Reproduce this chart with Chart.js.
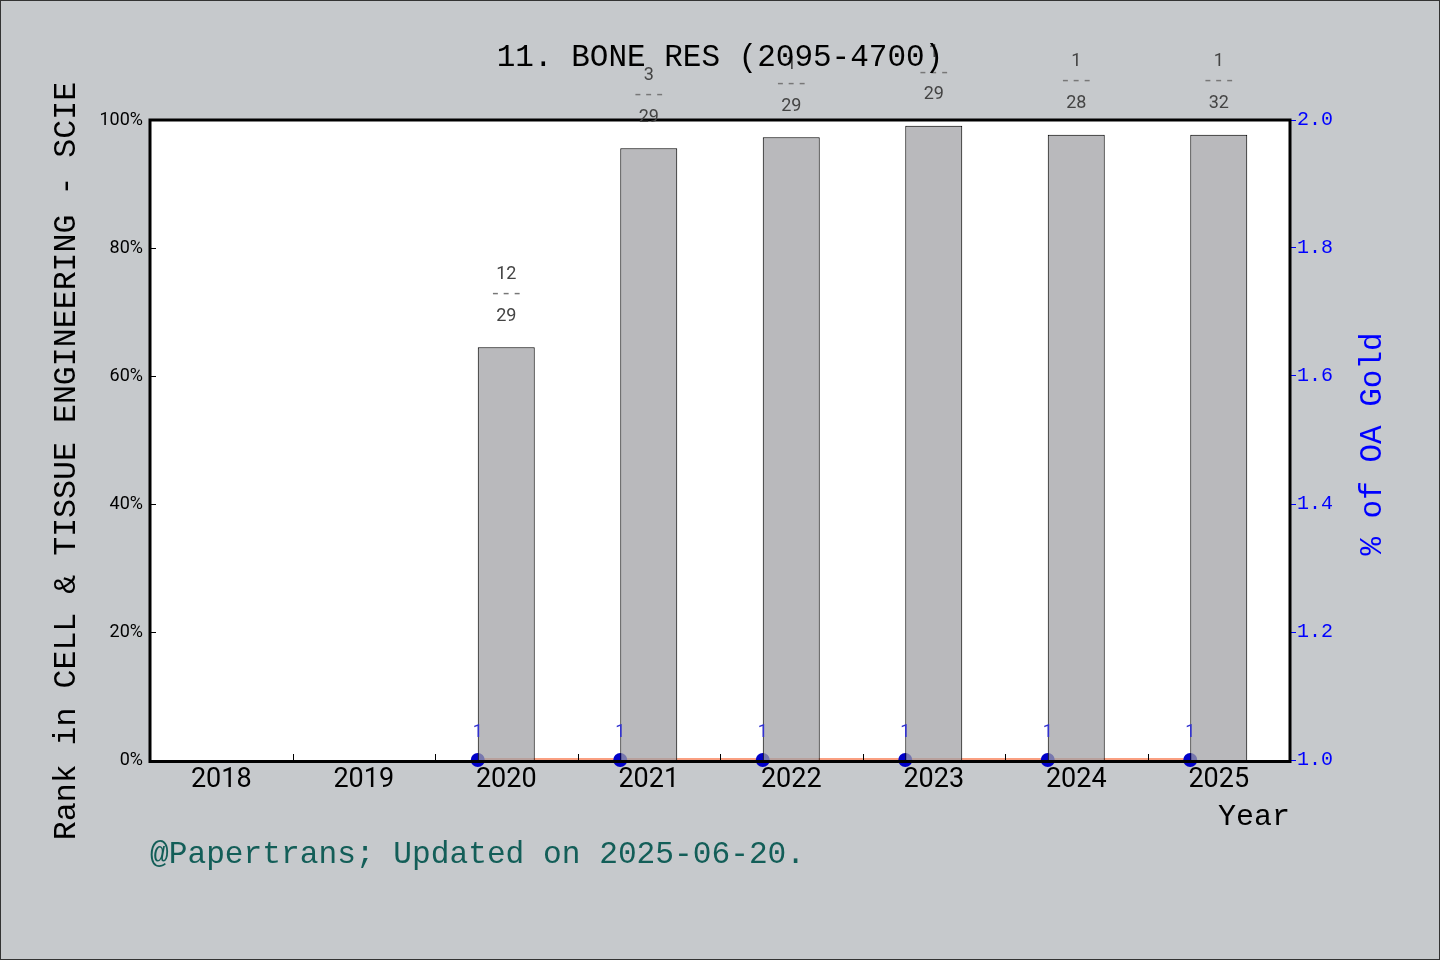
<!DOCTYPE html>
<html>
<head>
<meta charset="utf-8">
<script src="https://cdn.jsdelivr.net/npm/chart.js@4"></script>
<style>
  html, body { margin: 0; padding: 0; background: #c6c9cc; }
  canvas { display: block; }
</style>
</head>
<body>
<canvas id="rankChart" width="1440" height="960"></canvas>
<script>
const years = ["2018", "2019", "2020", "2021", "2022", "2023", "2024", "2025"];
const rankPct = [null, null, 64.5, 95.6, 97.3, 99.1, 97.7, 97.7];
const ranks = [null, null, 12, 3, 1, 1, 1, 1];
const totals = [null, null, 29, 29, 29, 29, 28, 32];
const oaGold = [null, null, 1, 1, 1, 1, 1, 1];
const oaLabels = [null, null, "1", "1", "1", "1", "1", "1"];
const leftTicks = [0, 20, 40, 60, 80, 100];
const rightTicks = [1.0, 1.2, 1.4, 1.6, 1.8, 2.0];

const titleText = "11. BONE RES (2095-4700)";
const leftTitle = "Rank in CELL & TISSUE ENGINEERING - SCIE";
const rightTitle = "% of OA Gold";
const xTitle = "Year";
const footer = "@Papertrans; Updated on 2025-06-20.";

const mono = "'Liberation Mono', 'DejaVu Sans Mono', monospace";
const sans = "Roboto, 'Liberation Sans', sans-serif";
const pointShift = 0.2; // points sit at the left edge of each bar

// line points on a hidden linear axis so they can sit off the category centre
const oaPoints = [];
const oaPointLabels = [];
years.forEach((y, i) => {
    if (oaGold[i] !== null) {
        oaPoints.push({ x: Number(y) - pointShift, y: oaGold[i] });
        oaPointLabels.push(oaLabels[i]);
    }
});

const decor = {
    id: "decor",
    beforeDraw(chart) {
        const ctx = chart.ctx;
        const a = chart.chartArea;
        ctx.save();
        ctx.fillStyle = "#c6c9cc";
        ctx.fillRect(0, 0, chart.width, chart.height);
        ctx.fillStyle = "#ffffff";
        ctx.fillRect(a.left, a.top, a.right - a.left, a.bottom - a.top);
        ctx.restore();
    },
    afterDatasetsDraw(chart) {
        const ctx = chart.ctx;
        const a = chart.chartArea;
        const xs = chart.scales.x;
        const ys = chart.scales.y;
        ctx.save();

        // inward ticks
        ctx.strokeStyle = "#000";
        ctx.lineWidth = 1;
        for (let i = 0; i < years.length - 1; i++) {
            const px = Math.round((xs.getPixelForValue(i) + xs.getPixelForValue(i + 1)) / 2) + 0.5;
            ctx.beginPath();
            ctx.moveTo(px, a.bottom);
            ctx.lineTo(px, a.bottom - 6);
            ctx.stroke();
        }
        leftTicks.forEach(v => {
            const py = Math.round(ys.getPixelForValue(v)) + 0.5;
            ctx.beginPath();
            ctx.moveTo(a.left, py);
            ctx.lineTo(a.left + 6, py);
            ctx.stroke();
        });

        // plot frame
        ctx.lineWidth = 3;
        ctx.strokeRect(a.left, a.top, a.right - a.left, a.bottom - a.top + 1.5);

        // rank labels above bars
        const barMeta = chart.getDatasetMeta(1);
        ctx.textAlign = "center";
        ctx.textBaseline = "middle";
        barMeta.data.forEach((bar, i) => {
            if (ranks[i] === null) return;
            ctx.font = "18px " + sans;
            ctx.fillStyle = "#444";
            ctx.fillText(String(ranks[i]), bar.x, bar.y - 73);
            ctx.font = "18px " + mono;
            ctx.fillStyle = "#777";
            ctx.fillText("---", bar.x, bar.y - 53);
            ctx.font = "18px " + sans;
            ctx.fillStyle = "#444";
            ctx.fillText(String(totals[i]), bar.x, bar.y - 31);
        });

        // OA labels above points
        const lineMeta = chart.getDatasetMeta(0);
        ctx.font = "18px " + sans;
        ctx.fillStyle = "#3030d0";
        lineMeta.data.forEach((pt, i) => {
            ctx.fillText(oaPointLabels[i], pt.x, pt.y - 28);
        });

        // titles
        ctx.fillStyle = "#000";
        ctx.font = "31px " + mono;
        ctx.fillText(titleText, (a.left + a.right) / 2, 58);
        ctx.font = "30px " + mono;
        ctx.textAlign = "right";
        ctx.fillText(xTitle, a.right, 817);
        ctx.textAlign = "left";
        ctx.fillStyle = "#135e58";
        ctx.font = "31.2px " + mono;
        ctx.fillText(footer, a.left, 855);

        ctx.save();
        ctx.translate(67, 461);
        ctx.rotate(-Math.PI / 2);
        ctx.textAlign = "center";
        ctx.fillStyle = "#000";
        ctx.font = "31.6px " + mono;
        ctx.fillText(leftTitle, 0, 0);
        ctx.restore();

        ctx.save();
        ctx.translate(1373, 444);
        ctx.rotate(-Math.PI / 2);
        ctx.textAlign = "center";
        ctx.fillStyle = "#0000ff";
        ctx.font = "31px " + mono;
        ctx.fillText(rightTitle, 0, 0);
        ctx.restore();

        // outer frame
        ctx.strokeStyle = "#333";
        ctx.lineWidth = 1;
        ctx.strokeRect(0.5, 0.5, chart.width - 1, chart.height - 1);
        ctx.restore();
    }
};

new Chart(document.getElementById("rankChart").getContext("2d"), {
    type: "line",
    data: {
        labels: years,
        datasets: [
            {
                type: "line",
                label: "% of OA Gold",
                data: oaPoints,
                xAxisID: "x2",
                yAxisID: "y2",
                borderColor: "rgb(250,160,130)",
                borderWidth: 4,
                pointRadius: 7,
                pointBackgroundColor: "rgb(0,0,200)",
                pointBorderWidth: 0,
                clip: false,
                order: 1
            },
            {
                type: "bar",
                label: "Rank",
                data: rankPct,
                xAxisID: "x",
                yAxisID: "y",
                backgroundColor: "rgba(160,161,164,0.74)",
                borderColor: "#000",
                borderWidth: 1,
                barPercentage: 0.4,
                categoryPercentage: 1,
                grouped: false,
                order: 0
            }
        ]
    },
    options: {
        responsive: false,
        animation: false,
        devicePixelRatio: 1,
        layout: { padding: { top: 120, left: 0, right: 0, bottom: 0 } },
        plugins: {
            legend: { display: false },
            tooltip: { enabled: false },
            title: { display: false }
        },
        scales: {
            x: {
                type: "category",
                offset: true,
                grid: { display: false, drawTicks: false },
                border: { display: false },
                ticks: {
                    color: "#000",
                    font: { size: 27, family: sans },
                    padding: 4,
                    maxRotation: 0
                },
                afterFit(scale) { scale.height = 200; }
            },
            x2: {
                type: "linear",
                min: 2017.5,
                max: 2025.5,
                offset: false,
                display: false
            },
            y: {
                position: "left",
                min: 0,
                max: 100,
                afterBuildTicks(scale) { scale.ticks = leftTicks.map(v => ({ value: v })); },
                grid: { display: false, drawTicks: false },
                border: { display: false },
                ticks: {
                    color: "#000",
                    font: { size: 18, family: sans },
                    padding: 7,
                    callback: v => v + "%"
                },
                afterFit(scale) { scale.width = 150; }
            },
            y2: {
                position: "right",
                min: 1,
                max: 2,
                afterBuildTicks(scale) { scale.ticks = rightTicks.map(v => ({ value: v })); },
                grid: {
                    drawOnChartArea: false,
                    drawTicks: true,
                    tickLength: 6,
                    color: "#0000ff"
                },
                border: { display: false },
                ticks: {
                    color: "#0000ff",
                    font: { size: 20, family: mono },
                    padding: 1,
                    callback: v => Number(v).toFixed(1)
                },
                afterFit(scale) { scale.width = 150; }
            }
        }
    },
    plugins: [decor]
});
</script>
</body>
</html>
